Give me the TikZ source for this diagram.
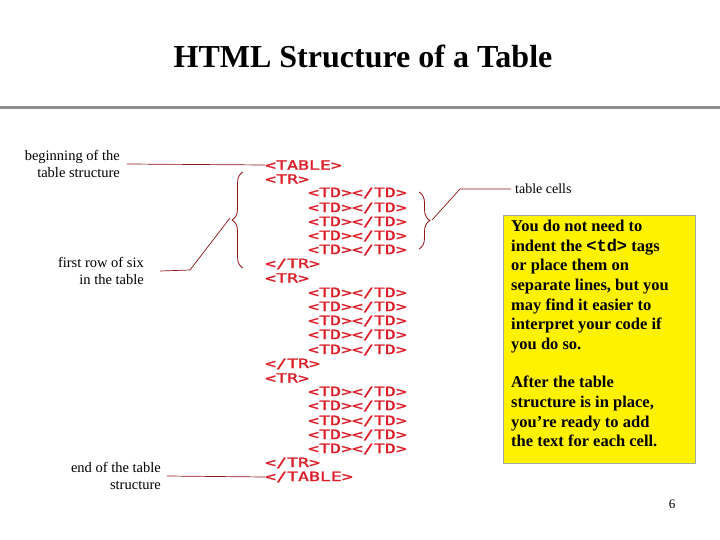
\documentclass[tikz,border=0pt]{standalone}
\usepackage{fontspec}
\setmainfont{Liberation Serif}
\newfontfamily\codefont[FakeStretch=1.4,FakeBold=1.5]{DejaVu Sans Mono}
\newfontfamily\tdfont{Liberation Mono}
\usetikzlibrary{decorations.pathreplacing}
\definecolor{codered}{RGB}{220,30,40}
\definecolor{linered}{RGB}{140,20,20}
\begin{document}
\begin{tikzpicture}[x=1pt,y=-1pt,
  code/.style={anchor=west,inner sep=0pt,text=codered,font=\codefont\fontsize{13}{13}\selectfont},
  lbl/.style={align=right,inner sep=0pt,font=\fontsize{14.5}{16.5}\selectfont,anchor=east},
  conn/.style={draw=linered,line width=0.7pt},
  br/.style={draw=linered,line width=0.8pt,decorate,decoration={brace,amplitude=11pt}}]
\useasboundingbox (0,0) rectangle (720,540);
\fill[white] (0,0) rectangle (720,540);
\node[font=\bfseries\fontsize{32}{34}\selectfont] (title) at (363,56) {HTML Structure of a Table};
\draw[line width=3pt,draw=black!45] (0,108) -- (720,108);
% code
\node[code] (table) at (265,165) {<TABLE>};
\node[code] (tr1) at (265,179) {<TR>};
\foreach \i/\y in {1/193,2/208,3/222,4/236,5/250}{\node[code] (a\i) at (308,\y) {<TD></TD>};}
\node[code] (etr1) at (265,264) {</TR>};
\node[code] (tr2) at (265,278) {<TR>};
\foreach \i/\y in {1/293,2/307,3/321,4/335,5/350}{\node[code] (b\i) at (308,\y) {<TD></TD>};}
\node[code] (etr2) at (265,364) {</TR>};
\node[code] (tr3) at (265,378) {<TR>};
\foreach \i/\y in {1/392,2/406,3/421,4/435,5/449}{\node[code] (c\i) at (308,\y) {<TD></TD>};}
\node[code] (etr3) at (265,463) {</TR>};
\node[code] (etable) at (265,477) {</TABLE>};
% labels
\node[lbl] (lbeg) at (120,164) {beginning of the\\table structure};
\node[lbl] (lrow) at (144,271) {first row of six\\in the table};
\node[lbl] (lend) at (161,476) {end of the table\\structure};
\node[anchor=west,inner sep=0pt,font=\fontsize{14}{15}\selectfont] (lcells) at (515,189) {table cells};
% connectors
\draw[conn] (lbeg.east)+(7,0) -- (table.west);
\draw[conn] (lend.east)+(6,0) -- (etable.west);
\coordinate (lb1) at (243,268);
\coordinate (lb2) at (243,172);
\draw[br] (lb1) -- (lb2);
\coordinate (lbtip) at (230,218);
\coordinate (lrowend) at (190,270);
\draw[conn] (lrow.east)+(16,0) -- (lrowend) -- (lbtip);
\coordinate (rb1) at (419,192);
\coordinate (rb2) at (419,249);
\draw[br] (rb1) -- (rb2);
\coordinate (rbtip) at (432,220);
\coordinate (cellsbend) at (460,189);
\draw[conn] (rbtip) -- (cellsbend) -- ([xshift=-4pt]lcells.west);
% yellow box
\node[draw=black!35,fill=yellow,minimum width=192pt,minimum height=248pt,anchor=north west,inner sep=0pt] (box) at (503,215) {};
\node[anchor=north west,align=left,inner sep=0pt,font=\bfseries\fontsize{16.5}{19.6}\selectfont] (t1) at (511,220)
 {You do not need to\\indent the {\tdfont\fontsize{17}{17}\selectfont<td>} tags\\or place them on\\separate lines, but you\\may find it easier to\\interpret your code if\\you do so.};
\node[anchor=north west,align=left,inner sep=0pt,font=\bfseries\fontsize{16.5}{19.6}\selectfont] (t2) at (511,376)
 {After the table\\structure is in place,\\you’re ready to add\\the text for each cell.};
\node[font=\fontsize{13}{13}\selectfont] (pg) at (672,504) {6};
\end{tikzpicture}
\end{document}
